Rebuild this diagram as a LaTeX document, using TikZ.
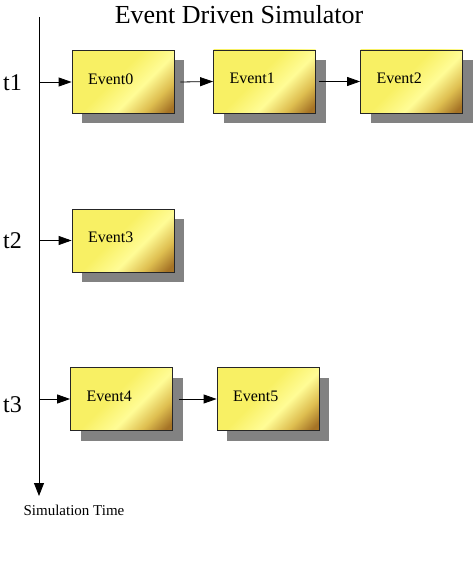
\documentclass[tikz,border=0pt]{standalone}
\usepackage{fontspec}
\setmainfont{Liberation Serif}
\usetikzlibrary{arrows.meta,shadows}
\definecolor{evbrown}{RGB}{165,115,38}
\definecolor{evgold}{RGB}{222,190,80}
\definecolor{evyellow}{RGB}{248,240,100}
\definecolor{evlight}{RGB}{255,252,150}
\definecolor{shadowgray}{RGB}{130,130,130}
\pgfdeclareverticalshading{eventshade}{100bp}{color(0bp)=(evbrown); color(18bp)=(evbrown); color(28bp)=(evgold); color(40bp)=(evlight); color(55bp)=(evyellow); color(100bp)=(evyellow)}
\tikzset{
  event/.style={draw=black!85, line width=0.8pt, shading=eventshade, shading angle=45,
    minimum width=102pt, minimum height=63pt, text width=70pt, align=left,
    inner xsep=0pt, text depth=6pt, font=\fontsize{16}{19}\selectfont,
    drop shadow={shadow xshift=10pt,shadow yshift=-10pt,fill=shadowgray,opacity=1}},
  tick/.style={-{Triangle[length=13pt,width=9pt]}, line width=0.8pt},
  tlabel/.style={anchor=base east, font=\fontsize{24}{28}\selectfont, inner sep=0pt},
}
\begin{document}
\begin{tikzpicture}[x=1pt,y=-1pt]
\useasboundingbox (0,0) rectangle (474,564);

\node[anchor=base, font=\fontsize{26}{30}\selectfont, inner sep=0pt] (title) at (239,24) {Event Driven Simulator};

%tidsaxel
\coordinate (axtop) at (39,17);
\coordinate (axbot) at (39,496);
\draw[-{Triangle[length=13pt,width=10pt]}, line width=0.8pt] (axtop) -- (axbot);
\node[anchor=base, font=\fontsize{15}{18}\selectfont, inner sep=0pt] (simtime) at (74,515) {Simulation Time};

%tidpunkter
\node[tlabel] (t1) at (22,91) {t1};
\node[tlabel] (t2) at (22,248) {t2};
\node[tlabel] (t3) at (22,412) {t3};

%händelser
\node[event] (e0) at (123,82) {Event0};
\node[event] (e1) at (264.5,81.5) {Event1};
\node[event] (e2) at (411.5,81.5) {Event2};
\node[event] (e3) at (123,240.5) {Event3};
\node[event] (e4) at (121.5,399) {Event4};
\node[event] (e5) at (268,399) {Event5};

%pilar från axeln
\coordinate (a1) at (axtop |- e0.west);
\coordinate (a2) at (axtop |- e3.west);
\coordinate (a3) at (axtop |- e4.west);
\draw[tick] (a1) -- (e0.west);
\draw[tick] (a2) -- (e3.west);
\draw[tick] (a3) -- (e4.west);

%pilar mellan händelser
\draw[tick] ([xshift=6pt]e0.east) -- (e1.west);
\draw[tick] ([xshift=3pt]e1.east) -- (e2.west);
\draw[tick] ([xshift=6pt]e4.east) -- (e5.west);

\end{tikzpicture}
\end{document}
